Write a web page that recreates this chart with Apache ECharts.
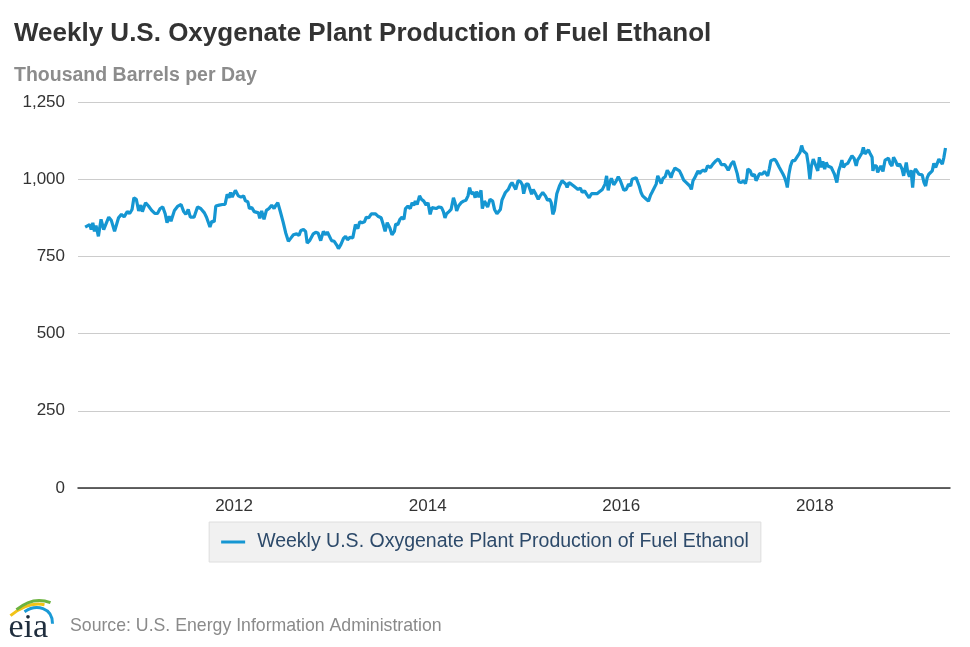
<!DOCTYPE html>
<html>
<head>
<meta charset="utf-8">
<script src="https://cdn.jsdelivr.net/npm/echarts@6/dist/echarts.min.js"></script>
<style>
html,body{margin:0;padding:0;background:#fff;}
#chart{width:970px;height:647px;}
</style>
</head>
<body>
<div id="chart"></div>
<script>
// Weekly production, thousand barrels per day: [month-day, value] per year
const y2010 = [['06-18',845],['07-05',853],['07-11',837],['07-17',859],['07-23',831],['07-29',850],['08-07',815],['08-17',870],['08-27',837],['09-15',877],['09-25',866],['10-07',831],['10-22',875],['11-02',886],['11-12',878],['11-24',895],['12-03',889],['12-12',902],['12-19',940],['12-28',935]];
const y2011 = [['01-06',897],['01-14',916],['01-20',895],['02-01',924],['02-12',913],['02-24',899],['03-08',889],['03-18',889],['03-28',905],['04-07',910],['04-16',888],['04-23',859],['05-01',880],['05-08',864],['05-21',899],['06-03',913],['06-15',918],['06-25',895],['07-03',886],['07-12',902],['07-20',877],['08-03',877],['08-16',910],['08-28',905],['09-11',891],['09-19',877],['10-02',845],['10-09',864],['10-18',862],['10-24',913],['11-06',916],['11-18',918],['11-28',918],['12-06',951],['12-13',940],['12-19',957],['12-25',942]];
const y2012 = [['01-06',964],['01-11',964],['01-17',946],['01-27',942],['02-06',946],['02-13',930],['02-22',927],['02-28',905],['03-08',908],['03-17',895],['03-23',899],['04-02',891],['04-07',873],['04-14',897],['04-23',870],['05-02',899],['05-12',905],['05-22',916],['05-31',905],['06-07',916],['06-14',924],['06-23',897],['07-04',862],['07-14',826],['07-24',799],['08-03',810],['08-12',820],['08-24',823],['09-02',818],['09-09',834],['09-19',837],['09-27',831],['10-03',793],['10-12',801],['10-18',801],['10-26',823],['11-04',828],['11-13',826],['11-23',801],['12-03',831],['12-12',820],['12-18',829],['12-24',823]];
const y2013 = [['01-03',801],['01-13',799],['01-23',786],['01-29',775],['02-07',788],['02-17',808],['02-25',815],['03-04',804],['03-14',812],['03-24',810],['04-03',853],['04-12',840],['04-19',862],['04-28',859],['05-07',862],['05-14',877],['05-23',875],['06-02',888],['06-09',886],['06-18',888],['06-27',880],['07-04',884],['07-09',875],['07-17',853],['07-24',831],['08-01',859],['08-11',842],['08-19',820],['08-28',831],['09-02',855],['09-10',853],['09-18',870],['09-26',877],['10-03',870],['10-09',905],['10-18',913],['10-27',905],['11-03',924],['11-09',915],['11-15',929],['11-22',918],['12-01',946],['12-08',935],['12-17',929],['12-26',916]];
const y2014 = [['01-02',924],['01-10',886],['01-17',908],['01-23',902],['02-02',905],['02-12',910],['02-22',908],['03-01',895],['03-07',875],['03-13',888],['03-22',895],['03-30',902],['04-08',940],['04-14',924],['04-20',897],['04-27',913],['05-07',924],['05-16',929],['05-25',932],['06-02',946],['06-08',973],['06-14',953],['06-23',957],['06-29',940],['07-04',960],['07-13',942],['07-21',964],['07-26',905],['08-03',929],['08-08',935],['08-15',910],['08-24',935],['09-03',929],['09-10',902],['09-19',888],['09-25',891],['10-02',902],['10-08',932],['10-14',938],['10-21',957],['11-01',967],['11-09',982],['11-15',989],['11-22',978],['11-29',967],['12-08',995],['12-17',992],['12-24',982],['12-29',953]];
const y2015 = [['01-07',984],['01-15',984],['01-22',967],['01-28',951],['02-03',967],['02-13',951],['02-22',935],['03-01',946],['03-11',957],['03-21',946],['03-29',932],['04-06',935],['04-12',924],['04-18',886],['04-24',899],['05-03',953],['05-13',978],['05-23',995],['05-28',997],['06-06',984],['06-11',973],['06-18',989],['06-27',984],['07-06',978],['07-13',973],['07-22',967],['07-31',971],['08-07',957],['08-16',962],['08-24',951],['09-02',940],['09-11',953],['09-17',951],['09-23',953],['10-02',953],['10-12',960],['10-22',967],['11-01',984],['11-07',1011],['11-13',964],['11-19',989],['11-25',1003],['12-04',982],['12-12',992],['12-21',1008],['12-29',995]];
const y2016 = [['01-11',964],['01-20',967],['01-29',984],['02-06',978],['02-11',1000],['02-18',995],['02-26',1005],['03-03',1000],['03-09',978],['03-16',957],['03-22',946],['03-28',951],['04-05',935],['04-13',929],['04-21',949],['04-26',957],['05-03',953],['05-12',984],['05-18',1011],['05-24',1016],['05-31',986],['06-07',1003],['06-15',1008],['06-23',1029],['07-01',1018],['07-07',1005],['07-13',1021],['07-22',1036],['07-29',1033],['08-08',1027],['08-17',1011],['08-24',997],['09-03',989],['09-09',986],['09-16',978],['09-22',967],['09-28',995],['10-05',1005],['10-11',1016],['10-17',1027],['10-23',1018],['10-29',1025],['11-06',1029],['11-14',1025],['11-22',1043],['11-27',1040],['12-03',1038],['12-12',1049],['12-18',1054],['12-24',1060]];
const y2017 = [['01-01',1065],['01-07',1058],['01-13',1047],['01-19',1043],['01-26',1047],['02-02',1038],['02-08',1029],['02-19',1049],['02-28',1058],['03-07',1060],['03-14',1018],['03-20',992],['03-29',989],['04-07',995],['04-14',986],['04-19',1005],['04-23',1033],['05-02',1027],['05-09',1011],['05-18',1016],['05-24',995],['05-30',1005],['06-06',1018],['06-16',1016],['06-25',1025],['07-01',1027],['07-07',1011],['07-13',1033],['07-19',1060],['07-26',1054],['08-02',1065],['08-08',1058],['08-14',1054],['08-20',1038],['08-27',1033],['09-03',1016],['09-09',1005],['09-15',989],['09-19',973],['09-25',1016],['10-01',1043],['10-08',1060],['10-17',1060],['10-23',1068],['10-29',1076],['11-06',1087],['11-12',1109],['11-18',1092],['11-24',1098],['12-01',1082],['12-07',1049],['12-13',1000],['12-19',1043],['12-26',1065],['12-31',1054]];
const y2018 = [['01-06',1060],['01-12',1027],['01-18',1071],['01-25',1038],['01-31',1058],['02-07',1033],['02-13',1054],['02-19',1043],['02-26',1049],['03-04',1038],['03-10',1027],['03-16',1016],['03-25',989],['04-01',1027],['04-07',1043],['04-13',1062],['04-19',1038],['04-26',1047],['05-05',1051],['05-12',1062],['05-21',1076],['05-29',1068],['06-06',1043],['06-11',1062],['06-18',1071],['06-27',1084],['07-03',1103],['07-09',1082],['07-16',1087],['07-22',1095],['07-28',1084],['08-05',1071],['08-08',1027],['08-13',1043],['08-21',1043],['08-26',1022],['09-01',1016],['09-07',1043],['09-15',1025],['09-23',1062],['09-30',1068],['10-06',1068],['10-12',1051],['10-19',1043],['10-25',1071],['11-01',1060],['11-09',1043],['11-17',1049],['11-26',1033],['12-02',1011],['12-08',1008],['12-12',1054],['12-17',1025],['12-24',1008],['12-30',1029]];
const y2019 = [['01-05',973],['01-10',1022],['01-16',1033],['01-22',1033],['01-29',1016],['02-04',1018],['02-10',1014],['02-17',989],['02-23',978],['03-01',1005],['03-07',1016],['03-13',1011],['03-20',1027],['03-26',1051],['04-02',1038],['04-08',1043],['04-14',1065],['04-21',1060],['04-27',1049],['05-03',1071],['05-09',1101]];

const years = {2010:y2010,2011:y2011,2012:y2012,2013:y2013,2014:y2014,2015:y2015,2016:y2016,2017:y2017,2018:y2018,2019:y2019};
const yTicks = [0, 250, 500, 750, 1000, 1250];
const xTickYears = [2012, 2014, 2016, 2018];
const seriesName = 'Weekly U.S. Oxygenate Plant Production of Fuel Ethanol';

const data = [];
Object.keys(years).forEach(function (yr) {
  years[yr].forEach(function (p) { data.push([yr + '-' + p[0], p[1]]); });
});

const FONT = '"Liberation Sans", Arial, sans-serif';
const chart = echarts.init(document.getElementById('chart'), null, {renderer: 'canvas'});
chart.setOption({
  animation: false,
  backgroundColor: '#ffffff',
  title: [
    {text: 'Weekly U.S. Oxygenate Plant Production of Fuel Ethanol', left: 14, top: 21, padding: 0,
     textStyle: {fontFamily: FONT, fontSize: 26, fontWeight: 'bold', color: '#333333'}},
    {text: 'Thousand Barrels per Day', left: 14, top: 66, padding: 0,
     textStyle: {fontFamily: FONT, fontSize: 19.5, fontWeight: 'bold', color: '#8c8c8c'}}
  ],
  legend: {
    left: 'center', top: 522,
    padding: [10, 12],
    backgroundColor: '#f1f1f1', borderColor: '#dedede', borderWidth: 1, borderRadius: 0,
    icon: 'rect', itemWidth: 24, itemHeight: 3,
    textStyle: {fontFamily: FONT, fontSize: 19.5, color: '#2d4a6a', padding: [0, 0, 0, 7]},
    data: [seriesName]
  },
  grid: {left: 78, right: 20, top: 102, bottom: 159, containLabel: false},
  xAxis: {
    type: 'time',
    min: '2010-05-22', max: '2019-05-26',
    splitNumber: 9,
    axisLine: {show: true, lineStyle: {color: '#333333', width: 1.5}},
    axisTick: {show: false},
    splitLine: {show: false},
    axisLabel: {
      fontFamily: FONT, fontSize: 17, color: '#333333', margin: 10,
      formatter: function (val) {
        const d = new Date(val);
        const y = d.getFullYear();
        if (d.getMonth() === 0 && d.getDate() === 1 && xTickYears.indexOf(y) >= 0) return String(y);
        return '';
      }
    }
  },
  yAxis: {
    type: 'value', min: yTicks[0], max: yTicks[yTicks.length - 1], interval: 250,
    axisLine: {show: false}, axisTick: {show: false},
    splitLine: {lineStyle: {color: '#cccccc', width: 1}},
    axisLabel: {
      fontFamily: FONT, fontSize: 17, color: '#333333', margin: 13,
      padding: [3, 0, 0, 0],
      formatter: function (v) { return v.toLocaleString('en-US'); }
    }
  },
  series: [{
    name: seriesName, type: 'line', data: data,
    showSymbol: false, symbol: 'none',
    lineStyle: {color: '#1596d2', width: 3.2},
    itemStyle: {color: '#1596d2'}
  }],
  graphic: [
    {type: 'text', left: 70, top: 617,
     style: {text: 'Source: U.S. Energy Information Administration', fontFamily: FONT, fontSize: 17.7, fill: '#8a8a8a'}},
    {type: 'group', left: 8, top: 598, children: [
      {type: 'bezierCurve', shape: {x1: 4, y1: 18, x2: 38, y2: 7, cpx1: 16, cpy1: 8, cpx2: 28, cpy2: 5},
       style: {stroke: '#f2c318', lineWidth: 3, fill: null}},
      {type: 'bezierCurve', shape: {x1: 10, y1: 12, x2: 44, y2: 5, cpx1: 22, cpy1: 2, cpx2: 34, cpy2: 1},
       style: {stroke: '#6db33f', lineWidth: 3, fill: null}},
      {type: 'bezierCurve', shape: {x1: 18, y1: 14, x2: 46, y2: 26, cpx1: 30, cpy1: 6, cpx2: 46, cpy2: 10},
       style: {stroke: '#1a9ad6', lineWidth: 3, fill: null}},
      {type: 'text', x: 2, y: 13,
       style: {text: 'eia', fontFamily: '"Liberation Serif", "DejaVu Serif", serif', fontSize: 34, fill: '#1f2d3d'}}
    ]}
  ]
});
</script>
</body>
</html>
